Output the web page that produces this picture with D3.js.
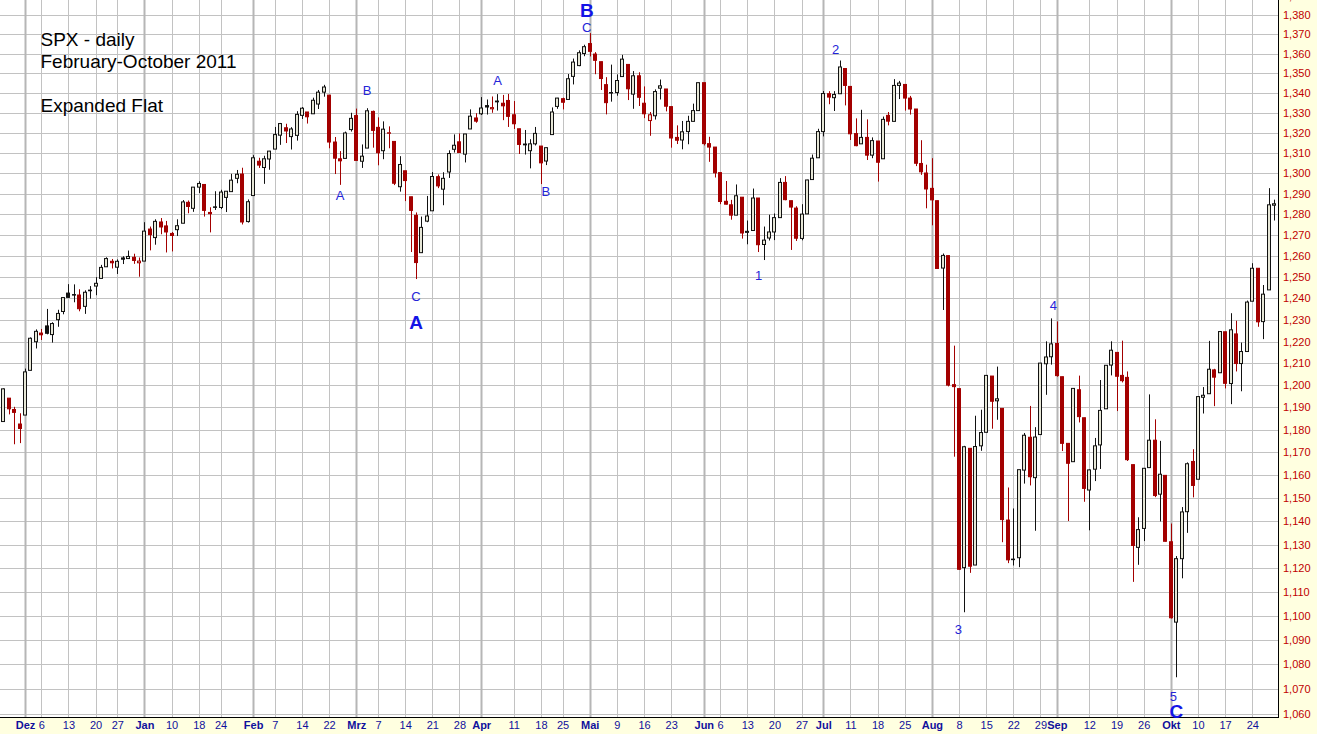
<!DOCTYPE html>
<html>
<head>
<meta charset="utf-8">
<script src="https://d3js.org/d3.v7.min.js"></script>
<title>SPX - daily</title>
<style>
  body { margin:0; background:#fff; }
  svg { display:block; }
</style>
</head>
<body>
<div id="chart"></div>
<script>
// daily candles, one array per month: [day, open, high, low, close]
var nov10 = [
  [24,1183.7,1198.6,1183.7,1198.4],[26,1194.2,1194.2,1186.9,1189.4],[29,1189.1,1190.3,1173.6,1187.8],
  [30,1182.6,1187.4,1174.1,1180.6]
];
var dec10 = [
  [1,1186.6,1207.6,1186.6,1206.1],[2,1206.8,1221.9,1206.8,1221.5],[3,1219.9,1225.6,1216.8,1224.7],
  [6,1223.9,1225.8,1220.7,1223.1],[7,1227.2,1235.1,1223.3,1223.8],[8,1223.2,1228.9,1219.5,1228.3],
  [9,1230.1,1234.7,1226.8,1233.0],[10,1233.9,1240.4,1232.6,1240.4],[13,1242.5,1246.7,1240.3,1240.5],
  [14,1241.8,1246.6,1238.2,1241.6],[15,1241.6,1244.3,1234.0,1235.2],[16,1236.3,1243.8,1232.8,1242.9],
  [17,1243.6,1245.8,1239.9,1243.9],[20,1245.8,1250.0,1241.5,1247.1],[21,1249.4,1255.8,1249.4,1254.6],
  [22,1254.9,1259.4,1254.9,1258.8],[23,1257.5,1258.6,1254.1,1256.8],[27,1254.7,1258.4,1251.5,1257.5],
  [28,1259.1,1259.9,1256.2,1258.5],[29,1258.8,1262.6,1258.8,1259.8],[30,1259.4,1261.1,1256.3,1257.9],
  [31,1256.8,1259.3,1250.2,1257.6]
];
var jan11 = [
  [3,1257.6,1276.2,1257.6,1271.9],[4,1272.9,1274.1,1262.7,1270.2],[5,1268.8,1277.6,1265.4,1276.6],
  [6,1276.3,1278.2,1270.4,1273.9],[7,1274.4,1276.8,1261.7,1271.5],[10,1270.8,1271.5,1262.2,1269.8],
  [11,1272.6,1277.6,1269.6,1274.5],[12,1275.7,1286.9,1275.7,1286.0],[13,1285.8,1286.7,1280.5,1283.8],
  [14,1282.9,1293.2,1281.2,1293.2],[18,1293.2,1296.1,1290.3,1295.0],[19,1294.5,1294.6,1278.9,1281.9],
  [20,1280.9,1283.4,1271.3,1280.3],[21,1283.6,1291.2,1282.1,1283.4],[24,1283.3,1291.9,1282.5,1290.8],
  [25,1288.2,1291.3,1281.1,1291.2],[26,1291.0,1299.7,1291.0,1296.6],[27,1297.5,1301.6,1295.1,1299.5],
  [28,1299.6,1302.7,1275.1,1276.3],[31,1276.5,1287.2,1276.0,1286.1]
];
var feb11 = [
  [1,1289.1,1308.9,1289.1,1307.6],[2,1305.9,1307.6,1302.6,1304.0],[3,1302.8,1308.6,1294.8,1307.1],
  [4,1307.0,1311.0,1301.7,1310.9],[7,1311.9,1322.9,1311.9,1319.1],[8,1318.8,1324.9,1314.0,1324.6],
  [9,1322.5,1324.5,1314.9,1320.9],[10,1318.1,1322.8,1311.7,1321.9],[11,1318.7,1330.8,1316.1,1329.2],
  [14,1328.7,1332.9,1326.9,1332.3],[15,1330.4,1330.4,1324.6,1328.0],[16,1329.5,1337.6,1329.5,1336.3],
  [17,1334.4,1341.5,1331.9,1340.4],[18,1340.4,1344.1,1338.1,1343.0],[22,1338.9,1338.9,1312.3,1315.4],
  [23,1315.4,1317.9,1299.6,1307.4],[24,1307.1,1310.9,1294.3,1306.1],[25,1307.3,1320.6,1307.3,1319.9],
  [28,1321.6,1330.0,1320.6,1327.2]
];
var mar11 = [
  [1,1328.6,1332.1,1306.1,1306.3],[2,1305.9,1314.2,1302.6,1308.4],[3,1312.4,1332.3,1312.4,1331.0],
  [4,1330.7,1331.1,1312.6,1321.2],[7,1322.7,1327.7,1303.9,1310.1],[8,1311.1,1325.7,1306.9,1321.8],
  [9,1319.9,1323.2,1312.3,1320.0],[10,1315.7,1315.7,1294.2,1295.1],[11,1293.4,1308.4,1291.0,1304.3],
  [14,1301.2,1301.2,1286.4,1296.4],[15,1288.5,1288.5,1261.9,1281.9],[16,1279.5,1280.9,1249.1,1256.9],
  [17,1261.6,1278.9,1261.6,1273.7],[18,1276.7,1288.9,1276.2,1279.2],[21,1281.7,1300.6,1281.7,1298.4],
  [22,1298.3,1299.4,1292.7,1293.8],[23,1292.2,1300.5,1284.4,1297.5],[24,1300.6,1311.3,1297.7,1309.7],
  [25,1311.8,1319.2,1310.2,1313.8],[28,1315.5,1319.7,1310.2,1310.2],[29,1309.4,1319.4,1305.3,1319.4],
  [30,1321.9,1331.7,1321.9,1328.3],[31,1327.4,1329.8,1325.0,1325.8]
];
var apr11 = [
  [1,1329.5,1337.9,1328.9,1332.4],[4,1333.6,1336.7,1329.1,1332.9],[5,1332.0,1338.2,1330.0,1332.6],
  [6,1335.9,1339.4,1331.1,1335.5],[7,1334.8,1339.0,1326.3,1333.5],[8,1336.2,1339.5,1322.9,1328.2],
  [11,1329.0,1335.9,1321.9,1324.5],[12,1322.0,1322.0,1309.5,1314.2],[13,1314.0,1321.4,1309.2,1314.4],
  [14,1311.1,1316.8,1302.4,1314.5],[15,1314.5,1322.9,1313.7,1319.7],[18,1313.4,1313.4,1294.7,1305.1],
  [19,1306.0,1312.7,1304.0,1312.6],[20,1319.1,1332.7,1319.1,1330.4],[21,1333.2,1337.5,1332.0,1337.4],
  [25,1337.1,1337.6,1331.7,1335.3],[26,1336.7,1349.6,1336.7,1347.2],[27,1348.4,1357.5,1344.3,1355.7],
  [28,1353.9,1361.7,1353.6,1360.5],[29,1360.1,1364.6,1358.7,1363.6]
];
var may11 = [
  [2,1365.2,1370.6,1358.6,1361.2],[3,1359.8,1360.8,1349.5,1356.6],[4,1355.9,1355.9,1341.5,1347.3],
  [5,1344.2,1348.0,1329.2,1335.1],[6,1340.2,1354.4,1335.6,1340.2],[9,1340.2,1349.4,1338.6,1346.3],
  [10,1348.3,1359.4,1348.3,1357.2],[11,1354.5,1354.5,1336.4,1342.1],[12,1339.4,1351.1,1332.0,1348.7],
  [13,1348.7,1350.5,1333.4,1337.8],[16,1334.8,1343.3,1327.3,1329.5],[17,1326.1,1330.4,1318.5,1329.0],
  [18,1328.5,1341.8,1326.6,1340.7],[19,1342.4,1346.8,1336.7,1343.6],[20,1342.0,1342.0,1330.7,1333.3],
  [23,1333.1,1333.1,1312.6,1317.4],[24,1317.7,1323.7,1314.4,1316.3],[25,1316.4,1325.9,1311.8,1320.5],
  [26,1320.6,1328.5,1314.3,1325.7],[27,1325.7,1334.6,1325.7,1331.1],[31,1331.1,1345.2,1331.1,1345.2]
];
var jun11 = [
  [1,1345.2,1345.2,1313.7,1314.6],[2,1314.6,1318.0,1305.6,1312.9],[3,1312.9,1312.9,1297.9,1300.2],
  [6,1300.3,1300.3,1284.9,1286.2],[7,1286.3,1296.2,1284.7,1284.9],[8,1284.6,1287.0,1277.4,1279.6],
  [9,1279.6,1294.5,1279.6,1289.0],[10,1288.3,1288.3,1268.3,1271.0],[13,1271.3,1277.0,1265.6,1271.8],
  [14,1272.2,1292.5,1272.2,1287.9],[15,1287.9,1287.9,1261.9,1265.4],[16,1265.5,1274.1,1258.1,1267.6],
  [17,1268.6,1279.8,1267.4,1271.5],[20,1271.5,1280.4,1267.6,1278.4],[21,1278.4,1297.6,1278.4,1295.5],
  [22,1295.5,1298.6,1286.8,1287.1],[23,1286.6,1286.6,1262.9,1283.5],[24,1283.0,1283.9,1267.2,1268.5],
  [27,1268.4,1284.9,1267.5,1280.1],[28,1280.2,1296.8,1280.2,1296.7],[29,1296.9,1309.2,1296.9,1307.4],
  [30,1307.6,1322.0,1307.6,1320.6]
];
var jul11 = [
  [1,1320.6,1341.0,1318.2,1339.7],[5,1339.6,1340.9,1334.3,1337.9],[6,1337.6,1340.9,1330.9,1339.2],
  [7,1339.6,1356.5,1339.6,1353.2],[8,1352.4,1352.4,1333.7,1343.8],[11,1343.3,1343.3,1316.4,1319.5],
  [12,1319.6,1327.2,1313.3,1313.6],[13,1314.5,1331.5,1314.5,1317.7],[14,1317.7,1326.7,1306.5,1308.9],
  [15,1308.9,1317.7,1307.4,1316.1],[18,1315.9,1315.9,1295.9,1305.4],[19,1307.1,1328.1,1307.1,1326.7],
  [20,1328.7,1330.4,1323.7,1325.8],[21,1325.7,1347.0,1325.7,1343.8],[22,1343.8,1346.1,1336.9,1345.0],
  [25,1344.3,1344.3,1331.1,1337.4],[26,1337.4,1338.5,1329.1,1331.9],[27,1331.9,1331.9,1303.5,1304.9],
  [28,1304.8,1316.3,1299.2,1300.7],[29,1300.1,1304.2,1282.9,1292.3]
];
var aug11 = [
  [1,1292.6,1307.4,1274.7,1287.0],[2,1286.6,1286.6,1254.0,1254.1],[3,1254.3,1261.2,1234.6,1260.3],
  [4,1260.2,1260.2,1199.5,1200.1],[5,1200.3,1218.1,1168.1,1199.4],[8,1198.5,1198.5,1119.3,1119.5],
  [9,1120.2,1172.9,1101.5,1172.5],[10,1171.8,1171.8,1118.0,1120.8],[11,1121.3,1186.3,1121.3,1172.6],
  [12,1172.9,1189.0,1170.7,1178.8],[15,1178.9,1204.5,1178.9,1204.5],[16,1204.2,1204.2,1180.5,1192.8],
  [17,1193.0,1208.5,1184.5,1193.9],[18,1189.6,1189.6,1131.0,1140.7],[19,1140.5,1154.6,1122.1,1123.5],
  [22,1123.6,1145.5,1121.1,1123.8],[23,1124.4,1162.4,1120.4,1162.4],[24,1162.2,1178.6,1156.3,1177.6],
  [25,1176.7,1190.7,1155.5,1159.3],[26,1158.9,1181.2,1135.9,1176.8],[29,1177.9,1210.1,1177.9,1210.1],
  [30,1209.8,1220.1,1195.7,1212.9],[31,1213.0,1230.7,1209.4,1218.9]
];
var sep11 = [
  [1,1219.1,1229.3,1203.9,1204.4],[2,1203.9,1203.9,1170.6,1174.0],[6,1174.0,1174.0,1140.1,1165.2],
  [7,1165.9,1198.6,1165.9,1198.6],[8,1198.0,1204.4,1183.3,1185.9],[9,1185.4,1185.4,1148.4,1154.2],
  [12,1153.5,1162.5,1136.1,1162.3],[13,1162.6,1176.4,1157.4,1172.9],[14,1173.3,1202.4,1162.7,1188.7],
  [15,1189.4,1209.1,1189.4,1209.1],[16,1209.2,1220.1,1204.5,1216.0],[19,1215.0,1215.0,1188.4,1204.1],
  [20,1204.5,1220.4,1201.3,1202.1],[21,1203.6,1206.3,1166.2,1166.8],[22,1164.6,1164.6,1114.2,1129.6],
  [23,1128.8,1141.7,1121.4,1136.4],[26,1136.9,1163.0,1131.5,1163.0],[27,1163.3,1195.9,1163.3,1175.4],
  [28,1175.4,1184.7,1150.4,1151.1],[29,1151.7,1175.1,1139.9,1160.4],[30,1159.9,1159.9,1131.3,1131.4]
];
var oct11 = [
  [3,1131.2,1139.0,1098.9,1099.2],[4,1097.4,1125.1,1074.8,1124.0],[5,1124.0,1146.1,1115.7,1144.0],
  [6,1144.1,1165.6,1135.0,1165.0],[7,1166.0,1171.4,1150.3,1155.5],[10,1158.2,1194.9,1158.2,1194.9],
  [11,1194.6,1199.2,1187.3,1195.5],[12,1196.2,1220.3,1196.2,1207.3],[13,1207.0,1207.5,1190.6,1203.7],
  [14,1205.7,1224.6,1205.7,1224.6],[17,1224.5,1224.5,1198.6,1200.9],[18,1200.8,1233.1,1191.5,1225.4],
  [19,1223.5,1229.6,1206.3,1209.9],[20,1209.9,1219.5,1197.3,1215.4],[21,1215.4,1239.0,1215.4,1238.3],
  [24,1238.7,1256.6,1238.7,1254.2],[25,1254.2,1254.2,1226.8,1229.1],[26,1229.2,1246.3,1221.1,1242.0],
  [27,1244.0,1292.7,1244.0,1284.6],[28,1284.4,1287.1,1277.0,1285.1]
];
var months = [["2010-11",nov10],["2010-12",dec10],["2011-01",jan11],["2011-02",feb11],["2011-03",mar11],
  ["2011-04",apr11],["2011-05",may11],["2011-06",jun11],["2011-07",jul11],["2011-08",aug11],
  ["2011-09",sep11],["2011-10",oct11]];

// x axis labels: [date, text, month start]
var xTicks = [
  ["2010-12-01","Dez",1],["2010-12-06","6"],["2010-12-13","13"],["2010-12-20","20"],["2010-12-27","27"],
  ["2011-01-03","Jan",1],["2011-01-10","10"],["2011-01-18","18"],["2011-01-24","24"],
  ["2011-02-01","Feb",1],["2011-02-07","7"],["2011-02-14","14"],["2011-02-22","22"],
  ["2011-03-01","Mrz",1],["2011-03-07","7"],["2011-03-14","14"],["2011-03-21","21"],["2011-03-28","28"],
  ["2011-04-01","Apr",1],["2011-04-11","11"],["2011-04-18","18"],["2011-04-25","25"],
  ["2011-05-02","Mai",1],["2011-05-09","9"],["2011-05-16","16"],["2011-05-23","23"],
  ["2011-06-01","Jun",1],["2011-06-06","6"],["2011-06-13","13"],["2011-06-20","20"],["2011-06-27","27"],
  ["2011-07-01","Jul",1],["2011-07-11","11"],["2011-07-18","18"],["2011-07-25","25"],
  ["2011-08-01","Aug",1],["2011-08-08","8"],["2011-08-15","15"],["2011-08-22","22"],["2011-08-29","29"],
  ["2011-09-01","Sep",1],["2011-09-12","12"],["2011-09-19","19"],["2011-09-26","26"],
  ["2011-10-03","Okt",1],["2011-10-10","10"],["2011-10-17","17"],["2011-10-24","24"]
];
var priceTicks = [1060,1070,1080,1090,1100,1110,1120,1130,1140,1150,1160,1170,1180,1190,1200,1210,1220,
  1230,1240,1250,1260,1270,1280,1290,1300,1310,1320,1330,1340,1350,1360,1370,1380,1390];

// wave counts: [date, text, at high/low, dx, dy, big]
var waveLabels = [
  ["2011-02-24","A","low",0,15,0],
  ["2011-03-03","B","high",0,-13,0],
  ["2011-03-16","C","low",0,22,0],
  ["2011-03-16","A","low",0,50,1],
  ["2011-04-06","A","high",0,-9,0],
  ["2011-04-18","B","low",5,12,0],
  ["2011-05-02","C","high",-3,-1,0],
  ["2011-05-02","B","high",-3,-16,1],
  ["2011-06-16","1","low",-5,20,0],
  ["2011-07-07","2","high",-4,-7,0],
  ["2011-08-09","3","low",-6,22,0],
  ["2011-08-31","4","high",2,-8,0],
  ["2011-10-04","5","low",-3,24,0],
  ["2011-10-04","C","low",0,41,1]
];
var titleLines = ["SPX - daily", "February-October 2011", "", "Expanded Flat"];

(function(){
  var W = 1317, H = 734;
  var plotR = 1278, plotB = 717;
  var font = "'Liberation Sans', Arial, sans-serif";

  var candles = [];
  months.forEach(function(m){
    m[1].forEach(function(r){
      candles.push({date: m[0] + "-" + (r[0] < 10 ? "0" : "") + r[0], o:r[1], h:r[2], l:r[3], c:r[4]});
    });
  });
  candles.forEach(function(d, i){
    var prev = i > 0 ? candles[i-1].c : d.o;
    d.gain = d.c >= prev;
    d.up = d.c >= d.o;
  });
  var byDate = {};
  candles.forEach(function(d){ byDate[d.date] = d; });

  var x = d3.scalePoint().domain(candles.map(function(d){ return d.date; })).range([3.3, 1274]);
  var y = d3.scaleLog().domain([1060, 1380]).range([714, 15]);

  var svg = d3.select("#chart").append("svg").attr("width", W).attr("height", H);
  svg.append("rect").attr("width", W).attr("height", H).attr("fill", "#fff");

  // horizontal grid
  svg.append("g").selectAll("line").data(priceTicks).enter().append("line")
    .attr("x1", 0).attr("x2", plotR)
    .attr("y1", function(d){ return Math.round(y(d)) + 0.5; })
    .attr("y2", function(d){ return Math.round(y(d)) + 0.5; })
    .attr("stroke", "#c2c2c2").attr("stroke-width", 1);

  // vertical grid
  svg.append("g").selectAll("line").data(xTicks).enter().append("line")
    .attr("x1", function(d){ return Math.round(x(d[0])) + 0.5; })
    .attr("x2", function(d){ return Math.round(x(d[0])) + 0.5; })
    .attr("y1", 0).attr("y2", plotB)
    .attr("stroke", function(d){ return d[2] ? "#b6b6b6" : "#c2c2c2"; })
    .attr("stroke-width", function(d){ return d[2] ? 2 : 1; });

  // axis bands
  svg.append("rect").attr("x", plotR + 1).attr("y", 0).attr("width", W - plotR - 1).attr("height", H).attr("fill", "#ffffe0");
  svg.append("rect").attr("x", 0).attr("y", plotB + 1).attr("width", W).attr("height", H - plotB - 1).attr("fill", "#ffffe0");
  svg.append("line").attr("x1", plotR + 0.5).attr("x2", plotR + 0.5).attr("y1", 0).attr("y2", plotB + 1).attr("stroke", "#000");
  svg.append("line").attr("x1", 0).attr("x2", plotR + 1).attr("y1", plotB + 0.5).attr("y2", plotB + 0.5).attr("stroke", "#000");

  // candles
  var red = "#a30000", blk = "#111", hollow = "#e6e6d6";
  var g = svg.append("g").selectAll("g").data(candles).enter().append("g");
  g.append("line")
    .attr("x1", function(d){ return Math.round(x(d.date)) + 0.5; })
    .attr("x2", function(d){ return Math.round(x(d.date)) + 0.5; })
    .attr("y1", function(d){ return y(d.h); })
    .attr("y2", function(d){ return y(d.l); })
    .attr("stroke", function(d){ return d.gain ? blk : red; });
  g.append("rect")
    .attr("x", function(d){ return Math.round(x(d.date)) - 1.5; })
    .attr("width", 3)
    .attr("y", function(d){ return y(Math.max(d.o, d.c)); })
    .attr("height", function(d){ return Math.max(0.5, y(Math.min(d.o, d.c)) - y(Math.max(d.o, d.c))); })
    .attr("fill", function(d){ return d.up ? hollow : (d.gain ? blk : red); })
    .attr("stroke", function(d){ return d.gain ? blk : red; })
    .attr("stroke-width", 1);

  // wave labels
  svg.append("g").selectAll("text").data(waveLabels).enter().append("text")
    .attr("x", function(d){ return x(d[0]) + d[3]; })
    .attr("y", function(d){ var c = byDate[d[0]]; return y(d[2] == "high" ? c.h : c.l) + d[4]; })
    .attr("text-anchor", "middle")
    .attr("font-family", font)
    .attr("font-size", function(d){ return d[5] ? 19 : 13; })
    .attr("font-weight", function(d){ return d[5] ? "bold" : "normal"; })
    .attr("fill", function(d){ return d[5] ? "#1414e6" : "#2424d8"; })
    .text(function(d){ return d[1]; });

  // title
  svg.append("g").selectAll("text").data(titleLines).enter().append("text")
    .attr("x", 40.5)
    .attr("y", function(d, i){ return 46 + i * 22; })
    .attr("font-family", font).attr("font-size", 19).attr("fill", "#000")
    .text(function(d){ return d; });

  // price labels
  var fmt = d3.format(",");
  svg.append("g").selectAll("text").data(priceTicks).enter().append("text")
    .attr("x", plotR + 5)
    .attr("y", function(d){ return y(d) + 4; })
    .attr("font-family", font).attr("font-size", 11).attr("fill", "#c00000")
    .text(function(d){ return fmt(d); });

  // date labels
  svg.append("g").selectAll("text").data(xTicks).enter().append("text")
    .attr("x", function(d){ return x(d[0]) + 0.5; })
    .attr("y", 729)
    .attr("text-anchor", "middle")
    .attr("font-family", font).attr("font-size", 11)
    .attr("font-weight", function(d){ return d[2] ? "bold" : "normal"; })
    .attr("fill", "#10109c")
    .text(function(d){ return d[1]; });
})();
</script>
</body>
</html>
